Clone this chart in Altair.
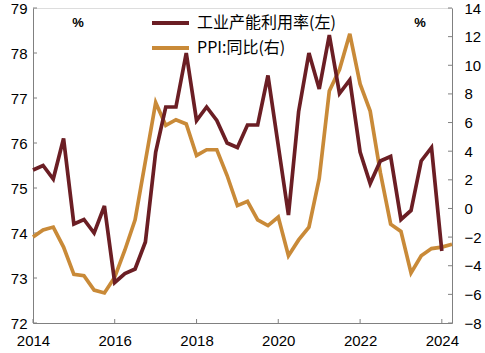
import altair as alt
import pandas as pd

# ---- data (quarterly) ----
quarters = [
    "2014-01-01", "2014-04-01", "2014-07-01", "2014-10-01",
    "2015-01-01", "2015-04-01", "2015-07-01", "2015-10-01",
    "2016-01-01", "2016-04-01", "2016-07-01", "2016-10-01",
    "2017-01-01", "2017-04-01", "2017-07-01", "2017-10-01",
    "2018-01-01", "2018-04-01", "2018-07-01", "2018-10-01",
    "2019-01-01", "2019-04-01", "2019-07-01", "2019-10-01",
    "2020-01-01", "2020-04-01", "2020-07-01", "2020-10-01",
    "2021-01-01", "2021-04-01", "2021-07-01", "2021-10-01",
    "2022-01-01", "2022-04-01", "2022-07-01", "2022-10-01",
    "2023-01-01", "2023-04-01", "2023-07-01", "2023-10-01",
    "2024-01-01", "2024-04-01",
]
capacity = [
    75.4, 75.5, 75.2, 76.1,
    74.2, 74.3, 74.0, 74.6,
    72.9, 73.1, 73.2, 73.8,
    75.8, 76.8, 76.8, 78.0,
    76.5, 76.8, 76.5, 76.0,
    75.9, 76.4, 76.4, 77.5,
    None, 74.4, 76.7, 78.0,
    77.2, 78.4, 77.1, 77.4,
    75.8, 75.1, 75.6, 75.7,
    74.3, 74.5, 75.6, 75.9,
    73.6, None,
]
ppi = [
    -2.0, -1.5, -1.3, -2.7,
    -4.6, -4.7, -5.7, -5.9,
    -4.8, -2.9, -0.8, 3.3,
    7.4, 5.8, 6.2, 5.9,
    3.7, 4.1, 4.1, 2.3,
    0.2, 0.5, -0.8, -1.2,
    -0.6, -3.3, -2.2, -1.3,
    2.1, 8.2, 9.7, 12.2,
    8.7, 6.8, 2.5, -1.1,
    -1.6, -4.5, -3.3, -2.8,
    -2.7, -2.5,
]
left_ticks = [72, 73, 74, 75, 76, 77, 78, 79]
right_ticks = [-8, -6, -4, -2, 0, 2, 4, 6, 8, 10, 12, 14]
year_ticks = ["2014-01-01", "2016-01-01", "2018-01-01", "2020-01-01", "2022-01-01", "2024-01-01"]

cap_name = "工业产能利用率(左)"
ppi_name = "PPI:同比(右)"

cap_df = pd.DataFrame({"date": quarters, "value": capacity, "series": cap_name}).dropna()
ppi_df = pd.DataFrame({"date": quarters, "value": ppi, "series": ppi_name}).dropna()

W, H = 419, 315
GRAY = "#808080"
CAP_C = "#6B1E24"
PPI_C = "#C98A38"
NUM_FONT = "Liberation Sans"
CJK_FONT = "Noto Sans CJK SC"

xscale = alt.Scale(domain=["2014-01-01", "2024-04-01"], nice=False)
xaxis = alt.Axis(
    title=None, format="%Y", values=[alt.DateTime(year=y) for y in range(2014, 2025, 2)],
    ticks=False, grid=False, domainColor=GRAY, labelFontSize=15, labelFont=NUM_FONT,
    labelColor="black", labelPadding=10, labelFlush=False, labelOverlap=False,
)
x_enc = alt.X("date:T", scale=xscale, axis=xaxis)

color = alt.Color(
    "series:N",
    scale=alt.Scale(domain=[cap_name, ppi_name], range=[CAP_C, PPI_C]),
    legend=alt.Legend(
        title=None, orient="none", legendX=117, legendY=7,
        symbolType="stroke", symbolSize=1369, symbolStrokeWidth=4,
        labelFontSize=16, labelFont=CJK_FONT, labelColor="black",
        labelOffset=6, clipHeight=16, rowPadding=9, padding=0,
    ),
)

cap_line = alt.Chart(cap_df).mark_line(strokeWidth=3.7).encode(
    x=x_enc,
    y=alt.Y("value:Q", scale=alt.Scale(domain=[72, 79], nice=False, zero=False),
            axis=alt.Axis(title=None, orient="left", values=left_ticks, ticks=False, grid=False,
                          domainColor=GRAY, labelFontSize=15, labelFont=NUM_FONT,
                          labelColor="black", labelPadding=6, labelFlush=False)),
    color=color,
)
ppi_line = alt.Chart(ppi_df).mark_line(strokeWidth=3.7).encode(
    x=x_enc,
    y=alt.Y("value:Q", scale=alt.Scale(domain=[-8, 14], nice=False, zero=False),
            axis=alt.Axis(title=None, orient="right", values=right_ticks, ticks=False, grid=False,
                          domainColor=GRAY, labelFontSize=15, labelFont=NUM_FONT,
                          labelColor="black", labelPadding=12, labelFlush=False)),
    color=color,
)

lt = alt.Chart(pd.DataFrame({"v": left_ticks})).mark_rule(color=GRAY, strokeWidth=1).encode(
    y=alt.Y("v:Q", scale=alt.Scale(domain=[72, 79], nice=False, zero=False), axis=None),
    x=alt.value(0), x2=alt.value(4),
)
rt = alt.Chart(pd.DataFrame({"v": right_ticks})).mark_rule(color=GRAY, strokeWidth=1).encode(
    y=alt.Y("v:Q", scale=alt.Scale(domain=[-8, 14], nice=False, zero=False), axis=None),
    x=alt.value(W - 4), x2=alt.value(W),
)
xt = alt.Chart(pd.DataFrame({"date": year_ticks})).mark_rule(color=GRAY, strokeWidth=1).encode(
    x=x_enc, y=alt.value(H - 4), y2=alt.value(H),
)

pct_df = pd.DataFrame({"t": ["%"]})
pct_l = alt.Chart(pct_df).mark_text(fontSize=13, fontWeight="bold", font=NUM_FONT, color="black").encode(
    text="t:N", x=alt.value(45), y=alt.value(15))
pct_r = alt.Chart(pct_df).mark_text(fontSize=13, fontWeight="bold", font=NUM_FONT, color="black").encode(
    text="t:N", x=alt.value(387), y=alt.value(15))

chart = alt.layer(lt, rt, xt, ppi_line, cap_line, pct_l, pct_r).resolve_scale(
    y="independent"
).properties(
    width=W, height=H,
    autosize=alt.AutoSizeParams(type="none"),
    padding={"left": 33, "top": 8, "right": 33, "bottom": 30},
).configure_view(stroke=None).configure(background="white")

chart.save("out.html", embed_options={"renderer": "svg", "actions": False})
